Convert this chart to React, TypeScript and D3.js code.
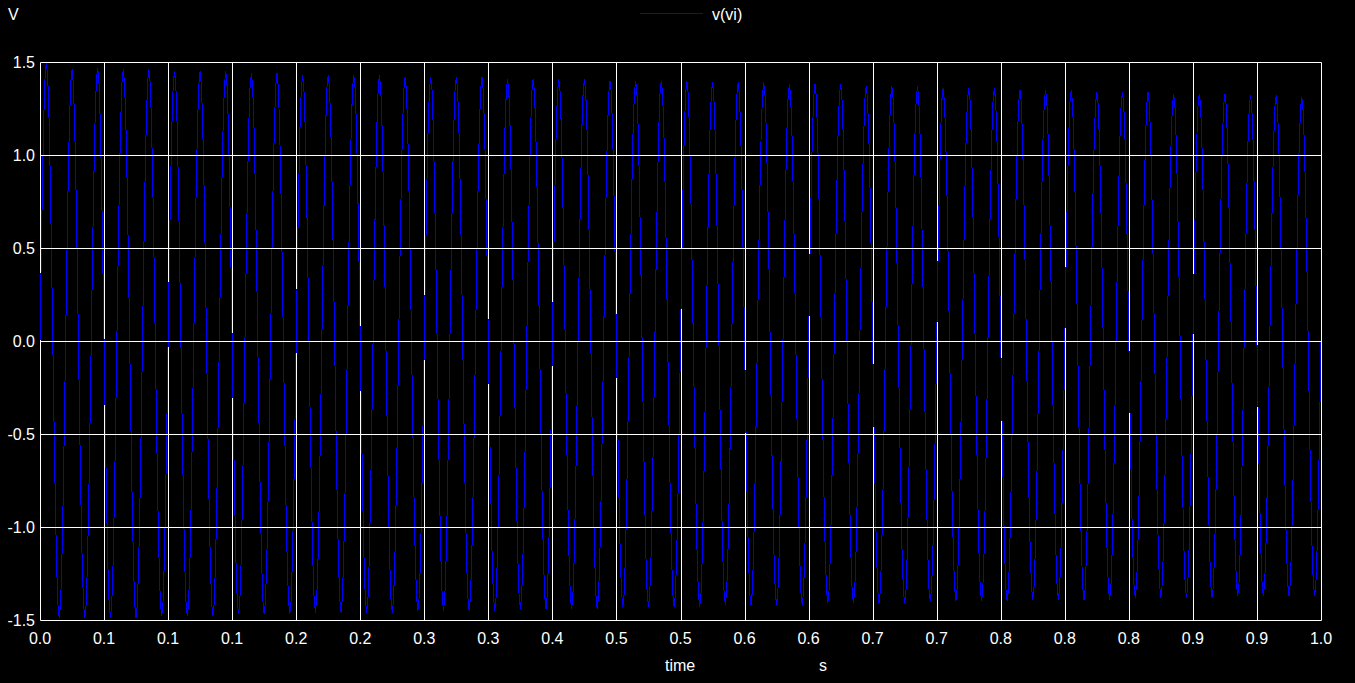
import React, { useEffect, useRef } from 'react';
import * as d3 from 'd3';

// one 50 Hz cycle every 0.02 s, 50 cycles across the record
const cycleMax = [
  1.50, 1.46, 1.47, 1.46, 1.46, 1.45, 1.45, 1.45, 1.44, 1.44,
  1.43, 1.43, 1.43, 1.43, 1.42, 1.42, 1.42, 1.42, 1.41, 1.41,
  1.41, 1.41, 1.40, 1.40, 1.40, 1.40, 1.39, 1.39, 1.39, 1.38,
  1.38, 1.38, 1.37, 1.37, 1.37, 1.36, 1.36, 1.36, 1.35, 1.35,
  1.35, 1.34, 1.34, 1.34, 1.33, 1.33, 1.33, 1.32, 1.32, 1.31,
];
const cycleMin = [
  -1.49, -1.49, -1.49, -1.49, -1.48, -1.48, -1.48, -1.47, -1.47, -1.47,
  -1.46, -1.46, -1.46, -1.46, -1.45, -1.45, -1.45, -1.45, -1.44, -1.44,
  -1.44, -1.44, -1.43, -1.43, -1.43, -1.43, -1.42, -1.42, -1.42, -1.42,
  -1.41, -1.41, -1.41, -1.41, -1.40, -1.40, -1.40, -1.40, -1.39, -1.39,
  -1.39, -1.39, -1.38, -1.38, -1.38, -1.38, -1.37, -1.37, -1.37, -1.37,
];
// normalised shape of one period (20 samples)
const cycleShape = [
  0, 0.309, 0.588, 0.809, 0.951, 1, 0.951, 0.809, 0.588, 0.309,
  0, -0.309, -0.588, -0.809, -0.951, -1, -0.951, -0.809, -0.588, -0.309,
];
const period = 0.02;

const xTickLabels = ['0.0', '0.1', '0.1', '0.1', '0.2', '0.2', '0.3', '0.3', '0.4', '0.5', '0.5',
  '0.6', '0.6', '0.7', '0.7', '0.8', '0.8', '0.8', '0.9', '0.9', '1.0'];
const yTicks = [1.5, 1.0, 0.5, 0.0, -0.5, -1.0, -1.5];

const W = 1355;
const H = 683;

const App = () => {
  const svgRef = useRef<SVGSVGElement>(null);

  useEffect(() => {
    const svg = d3.select(svgRef.current);
    svg.selectAll('*').remove();

    const x = d3.scaleLinear().domain([0, 1]).range([40, 1321]);
    const y = d3.scaleLinear().domain([-1.5, 1.5]).range([620, 62]);
    const font = 'Arial, "Liberation Sans", sans-serif';

    // build the samples from the per-cycle extremes
    const pts: [number, number][] = [];
    cycleMax.forEach((mx, c) => {
      const mn = cycleMin[c];
      cycleShape.forEach((s, k) => {
        const t = (c + k / cycleShape.length) * period;
        pts.push([t, s >= 0 ? s * mx : -s * mn]);
      });
    });
    pts.push([1, 0]);

    svg.append('rect').attr('width', W).attr('height', H).attr('fill', '#000');

    const xTicks = xTickLabels.map((_, i) => i * 0.05);
    const px = (v: number) => Math.round(x(v)) + 0.5;
    const py = (v: number) => Math.round(y(v)) + 0.5;

    svg.append('g')
      .selectAll('line')
      .data(xTicks)
      .join('line')
      .attr('x1', d => px(d)).attr('x2', d => px(d))
      .attr('y1', py(1.5)).attr('y2', py(-1.5))
      .attr('stroke', '#fff').attr('stroke-width', 1);

    const line = d3.line<[number, number]>()
      .x(d => x(d[0]))
      .y(d => y(d[1]));

    svg.append('path')
      .datum(pts)
      .attr('d', line)
      .attr('fill', 'none')
      .attr('stroke', '#0000ff')
      .attr('stroke-width', 1)
      .attr('shape-rendering', 'crispEdges');

    svg.append('g')
      .selectAll('line')
      .data(yTicks)
      .join('line')
      .attr('x1', px(0)).attr('x2', px(1))
      .attr('y1', d => py(d)).attr('y2', d => py(d))
      .attr('stroke', '#fff').attr('stroke-width', 1);

    svg.append('g')
      .selectAll('text')
      .data(yTicks)
      .join('text')
      .attr('x', 35)
      .attr('y', d => y(d) + 6)
      .attr('text-anchor', 'end')
      .attr('fill', '#fff')
      .style('font', `16px ${font}`)
      .text(d => d.toFixed(1));

    svg.append('g')
      .selectAll('text')
      .data(xTicks)
      .join('text')
      .attr('x', d => x(d))
      .attr('y', 644)
      .attr('text-anchor', 'middle')
      .attr('fill', '#fff')
      .style('font', `16px ${font}`)
      .text((_, i) => xTickLabels[i]);

    svg.append('text').attr('x', 8).attr('y', 20).attr('fill', '#fff')
      .style('font', `16px ${font}`).text('V');
    svg.append('text').attr('x', 665).attr('y', 671).attr('fill', '#fff')
      .style('font', `16px ${font}`).text('time');
    svg.append('text').attr('x', 819).attr('y', 671).attr('fill', '#fff')
      .style('font', `16px ${font}`).text('s');

    // legend
    svg.append('line')
      .attr('x1', 640).attr('x2', 703).attr('y1', 13.5).attr('y2', 13.5)
      .attr('stroke', '#0000ff').attr('stroke-width', 1);
    svg.append('text').attr('x', 712).attr('y', 20).attr('fill', '#fff')
      .style('font', `16px ${font}`).text('v(vi)');
  }, []);

  return (
    <div style={{ position: 'fixed', left: 0, top: 0, width: W, height: H, background: '#000' }}>
      <svg ref={svgRef} width={W} height={H} style={{ display: 'block' }}></svg>
    </div>
  );
};

export default App;
